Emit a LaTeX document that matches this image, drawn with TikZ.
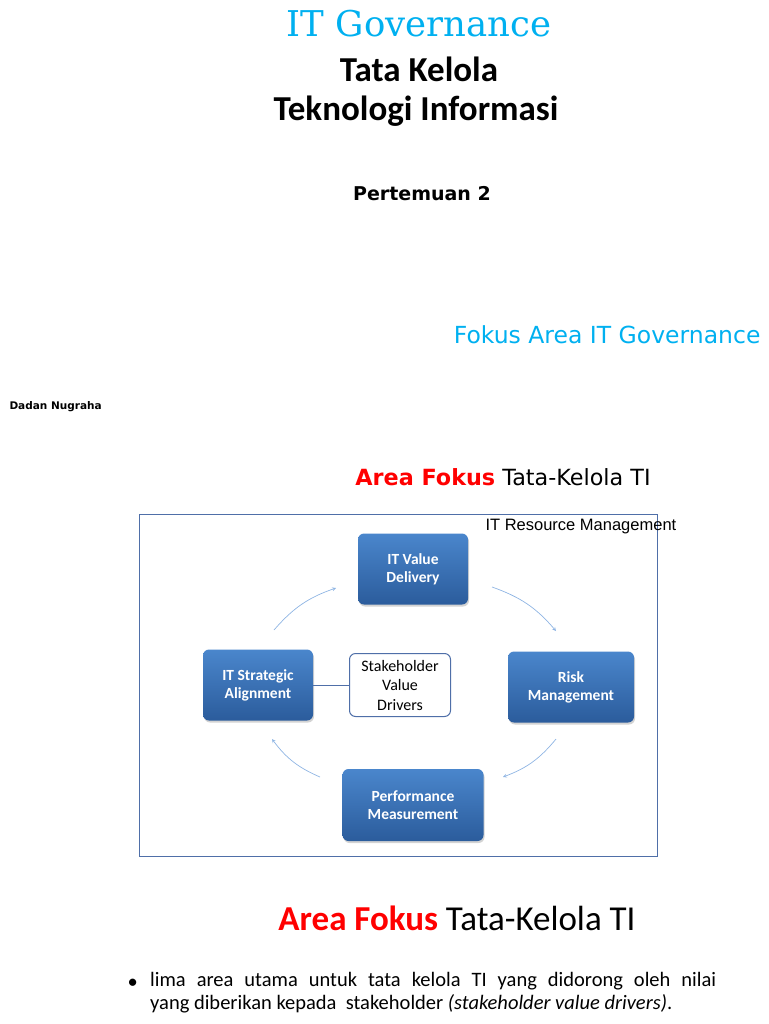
\documentclass[tikz,border=0pt]{standalone}
\usepackage{fontspec}
\setmainfont{Carlito}
\newfontfamily\dvs{DejaVu Sans}
\newfontfamily\dvserif{DejaVu Serif}
\newfontfamily\lsans{Liberation Sans}
\usetikzlibrary{shadows}
\definecolor{skyb}{HTML}{00B0F0}
\definecolor{boxtop}{HTML}{4A86CC}
\definecolor{boxbot}{HTML}{2B5C9C}
\definecolor{frameb}{HTML}{4F6FA8}
\definecolor{arr}{HTML}{8EB4E3}
\begin{document}
\begin{tikzpicture}[x=1pt,y=-1pt,
  bluebox/.style={rounded corners=6pt,top color=boxtop,bottom color=boxbot,draw=none,
    text=white,font=\bfseries\fontsize{15.5}{18}\selectfont,align=center,
    drop shadow={shadow xshift=1pt,shadow yshift=-2pt,opacity=0.35},inner sep=0},
  cyc/.style={->,draw=arr,line width=0.7pt,>=stealth}]
\useasboundingbox (0,0) rectangle (768,1024);
\node[text=skyb,font=\dvserif\fontsize{35.5}{38}\selectfont] (t1) at (419,24) {IT Governance};
\node[font=\bfseries\fontsize{35}{38}\selectfont] (t2) at (419,69) {Tata Kelola};
\node[font=\bfseries\fontsize{35}{38}\selectfont] (t3) at (416,111) {Teknologi Informasi};
\node[font=\dvs\bfseries\fontsize{19}{22}\selectfont] (t4) at (422,194) {Pertemuan 2};
\node[text=skyb,font=\dvs\fontsize{23.5}{27}\selectfont,anchor=east] (t5) at (764,335) {Fokus Area IT Governance};
\node[font=\dvs\bfseries\fontsize{10.5}{12}\selectfont,anchor=west] (t6) at (6,407) {Dadan Nugraha};
\node[font=\dvs\fontsize{22.3}{25}\selectfont] (t7) at (503,477) {\textcolor{red}{\bfseries Area Fokus} Tata-Kelola TI};
\draw[frameb,line width=0.8pt] (139,514) rectangle (657,856);
\node[font=\lsans\fontsize{16.5}{18}\selectfont,anchor=west] (rm) at (482,527) {IT Resource Management};
\node[bluebox,minimum width=110pt,minimum height=71pt] (vd) at (413,569) {IT Value\\Delivery};
\node[bluebox,minimum width=126pt,minimum height=71pt] (rk) at (571,687) {Risk\\Management};
\node[bluebox,minimum width=141pt,minimum height=72pt] (pm) at (413,805) {Performance\\Measurement};
\node[bluebox,minimum width=110pt,minimum height=71pt] (sa) at (258,685) {IT Strategic\\Alignment};
\node[draw=frameb,line width=1pt,rounded corners=6pt,fill=white,minimum width=101pt,minimum height=63pt,
  align=center,font=\fontsize{16}{19.5}\selectfont,inner sep=0] (sv) at (400,685) {Stakeholder\\Value\\Drivers};
\draw[frameb,line width=0.8pt] (sa.east) -- (sv.west);
\coordinate (a1) at (274,630); \coordinate (a2) at (336,588);
\coordinate (b1) at (492,587); \coordinate (b2) at (556,631);
\coordinate (c1) at (556,739); \coordinate (c2) at (503,777);
\coordinate (d1) at (320,777); \coordinate (d2) at (272,739);
\draw[cyc] (a1) to[bend left=15] (a2);
\draw[cyc] (b1) to[bend left=15] (b2);
\draw[cyc] (c1) to[bend left=15] (c2);
\draw[cyc] (d1) to[bend left=15] (d2);
\node[font=\fontsize{35}{38}\selectfont] (t8) at (457,918) {\textcolor{red}{\bfseries Area Fokus} Tata-Kelola TI};
\node[font=\fontsize{20.5}{23}\selectfont,anchor=west] (bl) at (124,984) {\textbullet};
\node[font=\fontsize{20.5}{23}\selectfont,anchor=north west,align=justify,text width=566pt,inner sep=0] (bt) at (150,972)
 {lima area utama untuk tata kelola TI yang didorong oleh nilai\linebreak yang diberikan kepada\ \ stakeholder \textit{(stakeholder value drivers)}.};
\end{tikzpicture}
\end{document}
